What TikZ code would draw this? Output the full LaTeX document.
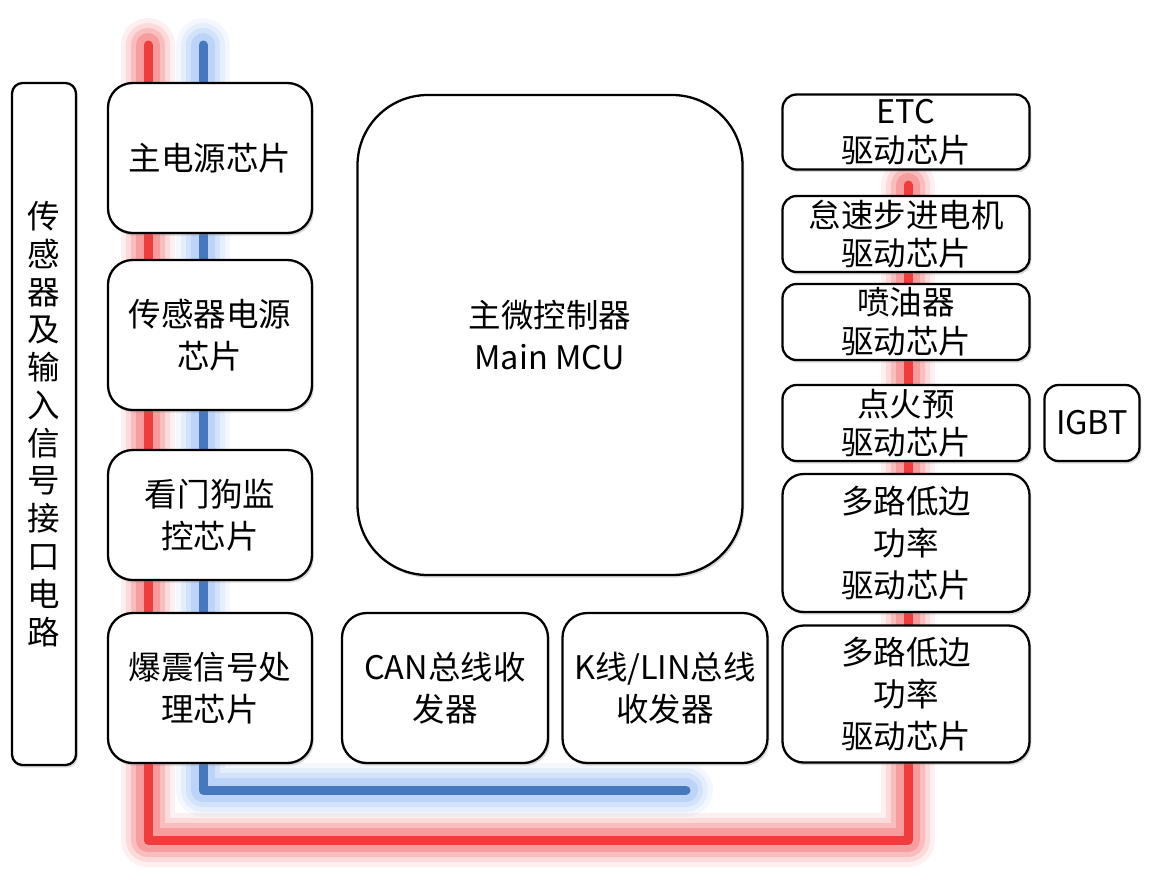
\documentclass[tikz,border=0pt]{standalone}
\usepackage{fontspec}
\setmainfont{Noto Sans CJK SC}
\usetikzlibrary{shadows}
\definecolor{rl}{RGB}{240,60,60}
\definecolor{bl}{RGB}{70,120,190}
\definecolor{bglow}{RGB}{120,170,240}
\tikzset{
 blk/.style={draw=black,line width=1.3pt,fill=white,rounded corners=14pt,align=center,font=\fontsize{18.5}{24}\selectfont,drop shadow={opacity=0.3,shadow xshift=1pt,shadow yshift=-1.5pt},inner sep=0pt},
 sm/.style={font=\fontsize{18.5}{22}\selectfont,rounded corners=8pt},
 glowr/.style={line cap=round,line join=round},
}
\begin{document}
\begin{tikzpicture}[x=0.02cm,y=-0.02cm]
\useasboundingbox (0,0) rectangle (1153,887);
\coordinate (rt) at (148,45); \coordinate (rb) at (148,840); \coordinate (rr) at (908,840); \coordinate (re) at (908,185);
\coordinate (bt) at (203,45); \coordinate (bb) at (203,790); \coordinate (be) at (686,790);
\foreach \w/\o in {54/0.08,44/0.12,34/0.18,24/0.25}{
 \draw[glowr,rl,line width=\w*0.02cm,opacity=\o] (rt)--(rb)--(rr)--(re);
 \draw[glowr,bglow,line width=\w*0.02cm,opacity=\o] (bt)--(bb)--(be);}
\draw[glowr,rl,line width=9*0.02cm] (rt)--(rb)--(rr)--(re);
\draw[glowr,bl,line width=9*0.02cm] (bt)--(bb)--(be);
\node[blk,minimum width=64*0.02cm,minimum height=682*0.02cm,rounded corners=6pt,font=\fontsize{18.5}{21.5}\selectfont] (sens) at (44,424) {传\\感\\器\\及\\输\\入\\信\\号\\接\\口\\电\\路};
\node[blk,minimum width=204*0.02cm,minimum height=150*0.02cm] (p1) at (210,158) {主电源芯片};
\node[blk,minimum width=204*0.02cm,minimum height=150*0.02cm] (p2) at (210,335) {传感器电源\\芯片};
\node[blk,minimum width=204*0.02cm,minimum height=130*0.02cm] (wd) at (210,515) {看门狗监\\控芯片};
\node[blk,minimum width=204*0.02cm,minimum height=150*0.02cm] (kn) at (210,688) {爆震信号处\\理芯片};
\node[blk,minimum width=385*0.02cm,minimum height=480*0.02cm,rounded corners=40pt] (mcu) at (550,335) {主微控制器\\Main MCU};
\node[blk,minimum width=206*0.02cm,minimum height=150*0.02cm] (can) at (445,688) {CAN总线收\\发器};
\node[blk,minimum width=205*0.02cm,minimum height=150*0.02cm] (kl) at (665,688) {K线/LIN总线\\收发器};
\node[blk,sm,minimum width=247*0.02cm,minimum height=75*0.02cm] (etc) at (906,132) {ETC\\驱动芯片};
\node[blk,sm,minimum width=247*0.02cm,minimum height=76*0.02cm] (idle) at (906,234) {怠速步进电机\\驱动芯片};
\node[blk,sm,minimum width=247*0.02cm,minimum height=76*0.02cm] (inj) at (906,322) {喷油器\\驱动芯片};
\node[blk,sm,minimum width=247*0.02cm,minimum height=76*0.02cm] (ign) at (906,423) {点火预\\驱动芯片};
\node[blk,sm,minimum width=95*0.02cm,minimum height=76*0.02cm] (igbt) at (1092,423) {IGBT};
\node[blk,sm,minimum width=247*0.02cm,minimum height=138*0.02cm,rounded corners=12pt,font=\fontsize{18.5}{24}\selectfont] (ls1) at (906,543) {多路低边\\功率\\驱动芯片};
\node[blk,sm,minimum width=247*0.02cm,minimum height=137*0.02cm,rounded corners=12pt,font=\fontsize{18.5}{24}\selectfont] (ls2) at (906,694) {多路低边\\功率\\驱动芯片};
\end{tikzpicture}
\end{document}
